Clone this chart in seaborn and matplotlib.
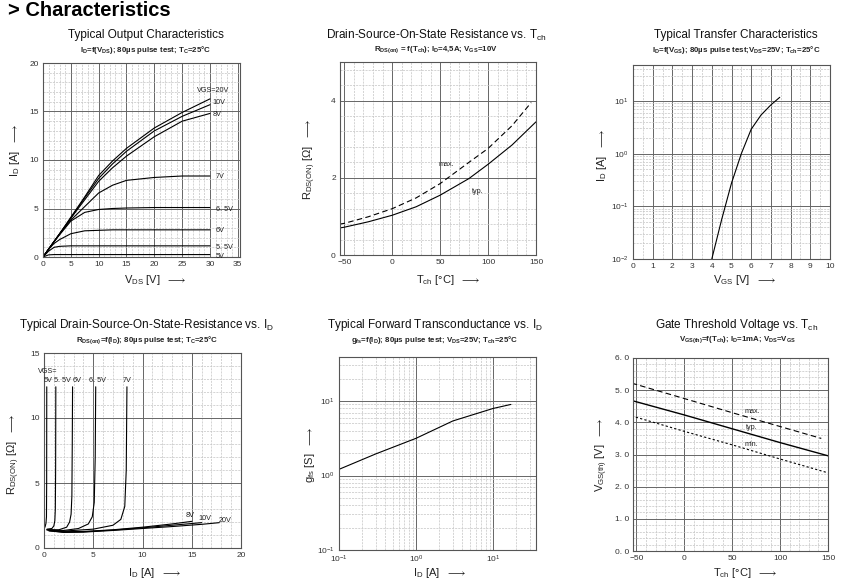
import matplotlib
matplotlib.use("Agg")
import matplotlib.pyplot as plt
import seaborn as sns
import numpy as np
from matplotlib.ticker import MultipleLocator, LogLocator, FuncFormatter, NullFormatter

# ---- data ----
# Typical output characteristics: I_D vs V_DS per V_GS
out_vds = [0, 1, 2, 3, 5, 7.5, 10, 12.5, 15, 20, 25, 30]
out_id = {
    "20V": [0, 0.8, 1.6, 2.4, 4.1, 6.2, 8.4, 9.9, 11.2, 13.3, 14.9, 16.3],
    "10V": [0, 0.8, 1.6, 2.4, 4.0, 6.1, 8.1, 9.6, 10.9, 13.0, 14.5, 15.7],
    "8V": [0, 0.8, 1.6, 2.4, 4.0, 5.9, 7.8, 9.2, 10.4, 12.4, 14.0, 14.8],
    "7V": [0, 0.8, 1.6, 2.4, 3.8, 5.2, 6.6, 7.4, 7.9, 8.2, 8.35, 8.35],
    "6.5V": [0, 0.8, 1.6, 2.3, 3.7, 4.6, 4.9, 5.0, 5.05, 5.1, 5.1, 5.1],
    "6V": [0, 0.8, 1.4, 1.8, 2.4, 2.7, 2.75, 2.8, 2.8, 2.8, 2.8, 2.8],
    "5.5V": [0, 0.6, 1.0, 1.1, 1.15, 1.15, 1.15, 1.15, 1.15, 1.15, 1.15, 1.15],
    "5V": [0, 0.22, 0.25, 0.25, 0.25, 0.25, 0.25, 0.25, 0.25, 0.25, 0.25, 0.25],
}
out_labels = ["VGS=20V", "10V", "8V", "7V", "6. 5V", "6V", "5. 5V", "5V"]
out_label_x = [27.6, 30.5, 30.5, 31.0, 31.0, 31.0, 31.0, 31.0]
out_label_y = [17.2, 15.9, 14.65, 8.3, 4.9, 2.7, 1.0, 0.1]

# R_DS(on) vs T_ch
rt_temp = [-55, -50, -25, 0, 25, 50, 80, 100, 125, 150]
rt_typ = [0.7, 0.72, 0.86, 1.03, 1.25, 1.55, 1.98, 2.35, 2.85, 3.45]
rt_temp_max = [-55, -50, -25, 0, 25, 50, 80, 100, 125, 145]
rt_max = [0.8, 0.82, 0.99, 1.2, 1.48, 1.85, 2.4, 2.76, 3.35, 3.95]

# transfer characteristics
tr_vgs = [4.0, 4.5, 5.0, 5.5, 6.0, 6.5, 7.0, 7.45]
tr_id = [0.01, 0.056, 0.275, 1.0, 2.9, 5.4, 8.4, 11.7]

# R_DS(on) vs I_D per V_GS
ri_curves = {
    "5V": ([0.1, 0.2, 0.25, 0.27, 0.28], [1.6, 1.9, 2.4, 5.0, 12.4]),
    "5.5V": ([0.3, 0.8, 1.0, 1.1, 1.15, 1.18, 1.2], [1.45, 1.5, 1.7, 2.1, 3.0, 6.0, 12.4]),
    "6V": ([0.3, 1.5, 2.3, 2.6, 2.75, 2.83, 2.87, 2.9], [1.4, 1.4, 1.6, 2.0, 2.6, 4.0, 8.0, 12.4]),
    "6.5V": ([0.3, 2.0, 3.5, 4.5, 4.9, 5.1, 5.2, 5.25], [1.4, 1.35, 1.5, 1.85, 2.4, 3.5, 7.0, 12.4]),
    "7V": ([0.3, 2.0, 5.0, 7.0, 7.8, 8.2, 8.35, 8.42], [1.4, 1.3, 1.45, 1.75, 2.2, 3.2, 6.0, 12.4]),
    "8V": ([0.5, 2, 4, 7, 10, 13, 15], [1.35, 1.25, 1.27, 1.4, 1.6, 1.85, 2.05]),
    "10V": ([0.5, 2, 4, 7, 10, 13, 16], [1.33, 1.22, 1.25, 1.38, 1.55, 1.75, 1.95]),
    "20V": ([0.5, 2, 4, 7, 10, 13, 16, 17.8], [1.32, 1.2, 1.22, 1.35, 1.5, 1.65, 1.82, 1.95]),
}
ri_top_labels = ["5V", "5. 5V", "6V", "6. 5V", "7V"]
ri_top_x = [0.0, 1.0, 2.9, 4.6, 8.0]
ri_low_labels = ["8V", "10V", "20V"]
ri_low_x = [14.4, 15.7, 17.7]
ri_low_y = [2.5, 2.25, 2.1]

# forward transconductance
gfs_id = [0.1, 0.3, 1.0, 3.0, 10.0, 17.0]
gfs_val = [1.21, 1.95, 3.16, 5.4, 7.95, 9.0]

# gate threshold voltage
vth_temp = [-55, 0, 50, 100, 150]
vth_typ = [4.68, 4.23, 3.8, 3.37, 2.96]
vth_min = [4.2, 3.72, 3.3, 2.86, 2.43]
vth_temp_max = [-55, 0, 50, 100, 143]
vth_max = [5.22, 4.74, 4.3, 3.87, 3.5]

# ---- style ----
sns.set_theme(style="white")
plt.rcParams["font.family"] = ["Liberation Sans", "DejaVu Sans"]
plt.rcParams["mathtext.default"] = "regular"

W, H = 855, 587
fig = plt.figure(figsize=(W / 100, H / 100), dpi=100)
fig.patch.set_facecolor("white")

ARROW = r"  $\longrightarrow$"


def rect(x0, y0, x1, y1):
    return [x0 / W, 1 - y1 / H, (x1 - x0) / W, (y1 - y0) / H]


def ftext(x, y, s, **kw):
    fig.text(x / W, 1 - y / H, s, **kw)


def style_axes(ax):
    ax.set_facecolor("white")
    for sp in ax.spines.values():
        sp.set_color("#555555")
        sp.set_linewidth(0.8)
    ax.grid(which="major", color="#666666", lw=0.7)
    ax.grid(which="minor", color="#c4c4c4", lw=0.5, ls=(0, (3, 1.5)))
    ax.tick_params(which="both", length=0, labelsize=6, colors="#333333", pad=3)
    ax.set_xlabel("")
    ax.set_ylabel("")


def decorate(title, sub, tx, ty, ylab, ylx, yly, xlab, xlx, xly):
    ftext(tx, ty, title, fontsize=8.5, ha="center", va="center", color="#111111")
    ftext(tx, ty + 15, sub, fontsize=5.7, ha="center", va="center", color="#222222",
          fontweight="bold")
    ftext(ylx, yly, ylab + ARROW, fontsize=8, rotation=90, ha="center", va="center",
          color="#222222")
    ftext(xlx, xly, xlab + ARROW, fontsize=8, ha="center", va="center",
          color="#222222")


lk = dict(color="black", lw=0.8, sort=False, estimator=None)
lab_kw = dict(fontsize=5.2, color="#222222", va="center")

# ---- panel 1: output characteristics ----
ax1 = fig.add_axes(rect(43, 63, 240, 257))
for key, ids in out_id.items():
    sns.lineplot(x=out_vds, y=ids, ax=ax1, **lk)
ax1.set_xlim(0, 35.4)
ax1.set_ylim(0, 20)
ax1.xaxis.set_major_locator(MultipleLocator(5))
ax1.xaxis.set_minor_locator(MultipleLocator(1))
ax1.yaxis.set_major_locator(MultipleLocator(5))
ax1.yaxis.set_minor_locator(MultipleLocator(1))
style_axes(ax1)
for lab, lx, ly in zip(out_labels, out_label_x, out_label_y):
    ax1.text(lx, ly, lab, ha="left", **lab_kw)
decorate("Typical Output Characteristics",
         r"I$_{D}$=f(V$_{DS}$); 80µs pulse test; T$_{C}$=25°C",
         146, 35, r"I$_{D}$ [A]", 15, 150, r"V$_{DS}$ [V]", 155, 280)

# ---- panel 2: R_DS(on) vs T_ch ----
ax2 = fig.add_axes(rect(340, 62, 536, 255))
sns.lineplot(x=rt_temp, y=rt_typ, ax=ax2, **lk)
sns.lineplot(x=rt_temp_max, y=rt_max, ax=ax2, color="black", lw=0.8, sort=False,
             estimator=None, linestyle=(0, (5, 3)))
ax2.set_xlim(-54.5, 150)
ax2.set_ylim(0, 5)
ax2.xaxis.set_major_locator(MultipleLocator(50))
ax2.xaxis.set_minor_locator(MultipleLocator(10))
ax2.yaxis.set_major_locator(MultipleLocator(2))
ax2.yaxis.set_minor_locator(MultipleLocator(0.4))
style_axes(ax2)
ax2.text(48, 2.35, "max.", **lab_kw)
ax2.text(83, 1.64, "typ.", **lab_kw)
decorate("Drain-Source-On-State Resistance vs. T$_{ch}$",
         r"R$_{DS(on)}$ = f(T$_{ch}$); I$_{D}$=4,5A; V$_{GS}$=10V",
         436, 35, r"R$_{DS(ON)}$ [Ω]", 310, 160, r"T$_{ch}$ [°C]", 448, 280)

# ---- panel 3: transfer characteristics ----
ax3 = fig.add_axes(rect(633, 65, 830, 259))
ax3.set_yscale("log")
sns.lineplot(x=tr_vgs, y=tr_id, ax=ax3, **lk)
ax3.set_xlim(0, 10)
ax3.set_ylim(0.01, 48)
ax3.xaxis.set_major_locator(MultipleLocator(1))
ax3.xaxis.set_minor_locator(MultipleLocator(0.5))
ax3.yaxis.set_major_locator(LogLocator(base=10, numticks=10))
ax3.yaxis.set_minor_locator(LogLocator(base=10, subs=np.arange(2, 10), numticks=20))
ax3.yaxis.set_minor_formatter(NullFormatter())
style_axes(ax3)
decorate("Typical Transfer Characteristics",
         r"I$_{D}$=f(V$_{GS}$); 80µs pulse test;V$_{DS}$=25V; T$_{ch}$=25°C",
         736, 35, r"I$_{D}$ [A]", 602, 155, r"V$_{GS}$ [V]", 745, 280)

# ---- panel 4: R_DS(on) vs I_D ----
ax4 = fig.add_axes(rect(44, 353, 241, 548))
for key, (xs, ys) in ri_curves.items():
    sns.lineplot(x=xs, y=ys, ax=ax4, **lk)
ax4.set_xlim(0, 20)
ax4.set_ylim(0, 15)
ax4.xaxis.set_major_locator(MultipleLocator(5))
ax4.xaxis.set_minor_locator(MultipleLocator(1))
ax4.yaxis.set_major_locator(MultipleLocator(5))
ax4.yaxis.set_minor_locator(MultipleLocator(1))
style_axes(ax4)
ax4.text(-0.6, 13.6, "VGS=", **lab_kw)
for lab, lx in zip(ri_top_labels, ri_top_x):
    ax4.text(lx, 12.85, lab, **lab_kw)
for lab, lx, ly in zip(ri_low_labels, ri_low_x, ri_low_y):
    ax4.text(lx, ly, lab, **lab_kw)
decorate("Typical Drain-Source-On-State-Resistance vs. I$_{D}$",
         r"R$_{DS(on)}$=f(I$_{D}$); 80µs pulse test; T$_{C}$=25°C",
         147, 325, r"R$_{DS(ON)}$ [Ω]", 14, 455, r"I$_{D}$ [A]", 155, 573)

# ---- panel 5: forward transconductance ----
ax5 = fig.add_axes(rect(339, 357, 536, 550))
ax5.set_xscale("log")
ax5.set_yscale("log")
sns.lineplot(x=gfs_id, y=gfs_val, ax=ax5, **lk)
ax5.set_xlim(0.1, 36)
ax5.set_ylim(0.1, 39)
for axis in (ax5.xaxis, ax5.yaxis):
    axis.set_major_locator(LogLocator(base=10, numticks=10))
    axis.set_minor_locator(LogLocator(base=10, subs=np.arange(2, 10), numticks=20))
    axis.set_minor_formatter(NullFormatter())
style_axes(ax5)
decorate("Typical Forward Transconductance vs. I$_{D}$",
         r"g$_{fs}$=f(I$_{D}$); 80µs pulse test; V$_{DS}$=25V; T$_{ch}$=25°C",
         435, 325, r"g$_{fs}$ [S]", 310, 455, r"I$_{D}$ [A]", 440, 573)

# ---- panel 6: gate threshold voltage ----
ax6 = fig.add_axes(rect(633, 358, 828, 551))
sns.lineplot(x=vth_temp, y=vth_typ, ax=ax6, color="black", lw=1.0, sort=False, estimator=None)
sns.lineplot(x=vth_temp_max, y=vth_max, ax=ax6, color="black", lw=0.8, sort=False,
             estimator=None, linestyle=(0, (5, 3)))
sns.lineplot(x=vth_temp, y=vth_min, ax=ax6, color="black", lw=0.8, sort=False,
             estimator=None, linestyle=(0, (2, 2)))
ax6.set_xlim(-53.5, 150)
ax6.set_ylim(0, 6)
ax6.xaxis.set_major_locator(MultipleLocator(50))
ax6.xaxis.set_minor_locator(MultipleLocator(10))
ax6.yaxis.set_major_locator(MultipleLocator(1))
ax6.yaxis.set_minor_locator(MultipleLocator(0.2))
ax6.yaxis.set_major_formatter(FuncFormatter(lambda v, p: f"{v:.1f}".replace(".", ". ")))
style_axes(ax6)
ax6.text(63, 4.33, "max.", **lab_kw)
ax6.text(64, 3.85, "typ.", **lab_kw)
ax6.text(63, 3.3, "min.", **lab_kw)
decorate("Gate Threshold Voltage vs. T$_{ch}$",
         r"V$_{GS(th)}$=f(T$_{ch}$); I$_{D}$=1mA; V$_{DS}$=V$_{GS}$",
         737, 325, r"V$_{GS(th)}$ [V]", 602, 455, r"T$_{ch}$ [°C]", 745, 573)

# page heading
ftext(8, 10, "> Characteristics", fontsize=14.5, fontweight="bold", ha="left", va="center",
      color="black")

fig.savefig("out.png", dpi=100, facecolor="white")
